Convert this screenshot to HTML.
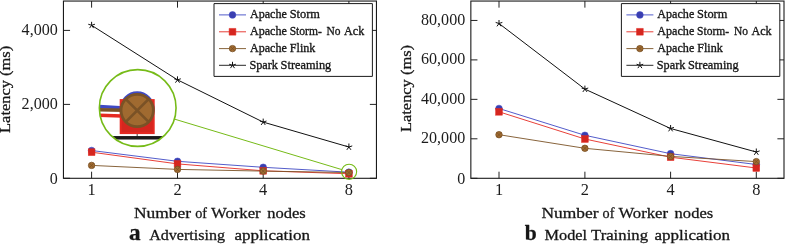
<!DOCTYPE html>
<html lang="en"><head><meta charset="utf-8"><title>Latency vs number of worker nodes</title>
<style>
html,body{margin:0;padding:0;background:#fff;}
body{width:785px;height:246px;overflow:hidden;}
svg{display:block;}
</style></head><body>
<svg width="785" height="246" viewBox="0 0 785 246" font-family='"Liberation Serif", serif' fill="#161616">
<rect width="785" height="246" fill="#fff"/>
<defs><clipPath id="spyclip"><circle cx="137.7" cy="108.0" r="38.35"/></clipPath></defs>
<g stroke="#161616" stroke-width="0.28" stroke-linejoin="round">
<g stroke-linejoin="miter">
<path d="M91.60 178.3v-6.6M91.60 1.05v6.6M177.50 178.3v-6.6M177.50 1.05v6.6M263.20 178.3v-6.6M263.20 1.05v6.6M348.90 178.3v-6.6M348.90 1.05v6.6M63.45 178.30h6.6M376.45 178.30h-6.6M63.45 104.40h6.6M376.45 104.40h-6.6M63.45 30.40h6.6M376.45 30.40h-6.6" stroke="#222" stroke-width="1.0" fill="none"/>
<rect x="63.45" y="1.05" width="313.00" height="177.25" fill="none" stroke="#1a1a1a" stroke-width="1.1"/>
<polyline points="91.60,150.50 177.50,161.30 263.20,167.30 348.90,172.20" fill="none" stroke="#3f49c4" stroke-width="0.9"/>
<circle cx="91.60" cy="150.50" r="3.37" fill="#3a3eb0" stroke="#3f49c4" stroke-width="0.5"/>
<circle cx="177.50" cy="161.30" r="3.37" fill="#3a3eb0" stroke="#3f49c4" stroke-width="0.5"/>
<circle cx="263.20" cy="167.30" r="3.37" fill="#3a3eb0" stroke="#3f49c4" stroke-width="0.5"/>
<circle cx="348.90" cy="172.20" r="3.37" fill="#3a3eb0" stroke="#3f49c4" stroke-width="0.5"/>
<polyline points="91.60,152.20 177.50,163.90 263.20,170.80 348.90,173.76" fill="none" stroke="#e52a22" stroke-width="0.9"/>
<rect x="88.23" y="148.83" width="6.74" height="6.74" fill="#d5261f" stroke="#e52a22" stroke-width="0.5"/>
<rect x="174.13" y="160.53" width="6.74" height="6.74" fill="#d5261f" stroke="#e52a22" stroke-width="0.5"/>
<rect x="259.83" y="167.43" width="6.74" height="6.74" fill="#d5261f" stroke="#e52a22" stroke-width="0.5"/>
<rect x="345.53" y="170.39" width="6.74" height="6.74" fill="#d5261f" stroke="#e52a22" stroke-width="0.5"/>
<polyline points="91.60,165.40 177.50,169.40 263.20,171.10 348.90,172.54" fill="none" stroke="#7a5226" stroke-width="0.9"/>
<circle cx="91.60" cy="165.40" r="3.22" fill="#a06a30" stroke="#7a5226" stroke-width="0.8"/><path d="M89.32 163.12L93.88 167.68M89.32 167.68L93.88 163.12" stroke="#7a5226" stroke-width="0.8" fill="none"/>
<circle cx="177.50" cy="169.40" r="3.22" fill="#a06a30" stroke="#7a5226" stroke-width="0.8"/><path d="M175.22 167.12L179.78 171.68M175.22 171.68L179.78 167.12" stroke="#7a5226" stroke-width="0.8" fill="none"/>
<circle cx="263.20" cy="171.10" r="3.22" fill="#a06a30" stroke="#7a5226" stroke-width="0.8"/><path d="M260.92 168.82L265.48 173.38M260.92 173.38L265.48 168.82" stroke="#7a5226" stroke-width="0.8" fill="none"/>
<circle cx="348.90" cy="172.54" r="3.22" fill="#a06a30" stroke="#7a5226" stroke-width="0.8"/><path d="M346.62 170.26L351.18 174.82M346.62 174.82L351.18 170.26" stroke="#7a5226" stroke-width="0.8" fill="none"/>
<polyline points="91.60,25.30 177.50,79.85 263.20,122.10 348.90,147.00" fill="none" stroke="#111" stroke-width="1.0"/>
<path d="M91.60 25.30L91.60 21.80M91.60 25.30L94.93 24.22M91.60 25.30L93.66 28.13M91.60 25.30L89.54 28.13M91.60 25.30L88.27 24.22" stroke="#111" stroke-width="1.0" fill="none"/>
<path d="M177.50 79.85L177.50 76.35M177.50 79.85L180.83 78.77M177.50 79.85L179.56 82.68M177.50 79.85L175.44 82.68M177.50 79.85L174.17 78.77" stroke="#111" stroke-width="1.0" fill="none"/>
<path d="M263.20 122.10L263.20 118.60M263.20 122.10L266.53 121.02M263.20 122.10L265.26 124.93M263.20 122.10L261.14 124.93M263.20 122.10L259.87 121.02" stroke="#111" stroke-width="1.0" fill="none"/>
<path d="M348.90 147.00L348.90 143.50M348.90 147.00L352.23 145.92M348.90 147.00L350.96 149.83M348.90 147.00L346.84 149.83M348.90 147.00L345.57 145.92" stroke="#111" stroke-width="1.0" fill="none"/>
<path d="M174.41 119.08L341.87 169.62" stroke="#76bb18" stroke-width="1"/>
<g clip-path="url(#spyclip)"><g transform="translate(137.7 108.0) scale(5) translate(-349.0 -172.34)">
<path d="M91.60 178.3v-6.6M91.60 1.05v6.6M177.50 178.3v-6.6M177.50 1.05v6.6M263.20 178.3v-6.6M263.20 1.05v6.6M348.90 178.3v-6.6M348.90 1.05v6.6M63.45 178.30h6.6M376.45 178.30h-6.6M63.45 104.40h6.6M376.45 104.40h-6.6M63.45 30.40h6.6M376.45 30.40h-6.6" stroke="#666" stroke-width="0.25" fill="none"/>
<rect x="63.45" y="1.05" width="313.00" height="177.25" fill="none" stroke="#1a1a1a" stroke-width="0.7"/>
<polyline points="91.60,150.50 177.50,161.30 263.20,167.30 348.90,172.50" fill="none" stroke="#3f49c4" stroke-width="0.7"/>
<circle cx="91.60" cy="150.50" r="3.30" fill="#3a3eb0" stroke="#3f49c4" stroke-width="0.4"/>
<circle cx="177.50" cy="161.30" r="3.30" fill="#3a3eb0" stroke="#3f49c4" stroke-width="0.4"/>
<circle cx="263.20" cy="167.30" r="3.30" fill="#3a3eb0" stroke="#3f49c4" stroke-width="0.4"/>
<circle cx="348.90" cy="172.50" r="3.30" fill="#3a3eb0" stroke="#3f49c4" stroke-width="0.4"/>
<polyline points="91.60,152.20 177.50,163.90 263.20,170.80 348.90,174.06" fill="none" stroke="#e52a22" stroke-width="0.7"/>
<rect x="88.30" y="148.90" width="6.60" height="6.60" fill="#d5261f" stroke="#e52a22" stroke-width="0.4"/>
<rect x="174.20" y="160.60" width="6.60" height="6.60" fill="#d5261f" stroke="#e52a22" stroke-width="0.4"/>
<rect x="259.90" y="167.50" width="6.60" height="6.60" fill="#d5261f" stroke="#e52a22" stroke-width="0.4"/>
<rect x="345.60" y="170.76" width="6.60" height="6.60" fill="#d5261f" stroke="#e52a22" stroke-width="0.4"/>
<polyline points="91.60,165.40 177.50,169.40 263.20,171.10 348.90,172.84" fill="none" stroke="#7a5226" stroke-width="0.7"/>
<circle cx="91.60" cy="165.40" r="3.23" fill="#a06a30" stroke="#7a5226" stroke-width="0.55"/><path d="M89.32 163.12L93.88 167.68M89.32 167.68L93.88 163.12" stroke="#7a5226" stroke-width="0.55" fill="none"/>
<circle cx="177.50" cy="169.40" r="3.23" fill="#a06a30" stroke="#7a5226" stroke-width="0.55"/><path d="M175.22 167.12L179.78 171.68M175.22 171.68L179.78 167.12" stroke="#7a5226" stroke-width="0.55" fill="none"/>
<circle cx="263.20" cy="171.10" r="3.23" fill="#a06a30" stroke="#7a5226" stroke-width="0.55"/><path d="M260.92 168.82L265.48 173.38M260.92 173.38L265.48 168.82" stroke="#7a5226" stroke-width="0.55" fill="none"/>
<circle cx="348.90" cy="172.84" r="3.23" fill="#a06a30" stroke="#7a5226" stroke-width="0.55"/><path d="M346.62 170.56L351.18 175.12M346.62 175.12L351.18 170.56" stroke="#7a5226" stroke-width="0.55" fill="none"/>
<polyline points="91.60,25.30 177.50,79.85 263.20,122.10 348.90,147.00" fill="none" stroke="#111" stroke-width="0.7"/>
<path d="M91.60 25.30L91.60 21.80M91.60 25.30L94.93 24.22M91.60 25.30L93.66 28.13M91.60 25.30L89.54 28.13M91.60 25.30L88.27 24.22" stroke="#111" stroke-width="0.5" fill="none"/>
<path d="M177.50 79.85L177.50 76.35M177.50 79.85L180.83 78.77M177.50 79.85L179.56 82.68M177.50 79.85L175.44 82.68M177.50 79.85L174.17 78.77" stroke="#111" stroke-width="0.5" fill="none"/>
<path d="M263.20 122.10L263.20 118.60M263.20 122.10L266.53 121.02M263.20 122.10L265.26 124.93M263.20 122.10L261.14 124.93M263.20 122.10L259.87 121.02" stroke="#111" stroke-width="0.5" fill="none"/>
<path d="M348.90 147.00L348.90 143.50M348.90 147.00L352.23 145.92M348.90 147.00L350.96 149.83M348.90 147.00L346.84 149.83M348.90 147.00L345.57 145.92" stroke="#111" stroke-width="0.5" fill="none"/>
</g></g>
<circle cx="137.7" cy="108.0" r="38.35" fill="none" stroke="#76bb18" stroke-width="1.6"/>
<circle cx="349.1" cy="171.8" r="7.55" fill="none" stroke="#76bb18" stroke-width="1.1"/>
</g>
<rect x="214.00" y="3.6" width="158.40" height="72.80000000000001" fill="#fff" stroke="#1a1a1a" stroke-width="1"/>
<path d="M219.00 14.9H246.00" stroke="#3f49c4" stroke-width="0.9"/>
<path d="M219.00 31.8H246.00" stroke="#e52a22" stroke-width="0.9"/>
<path d="M219.00 48.6H246.00" stroke="#7a5226" stroke-width="0.9"/>
<path d="M219.00 65.3H246.00" stroke="#111" stroke-width="0.9"/>
<circle cx="232.50" cy="14.90" r="3.37" fill="#3a3eb0" stroke="#3f49c4" stroke-width="0.5"/>
<rect x="229.13" y="28.43" width="6.74" height="6.74" fill="#d5261f" stroke="#e52a22" stroke-width="0.5"/>
<circle cx="232.50" cy="48.60" r="3.22" fill="#a06a30" stroke="#7a5226" stroke-width="0.8"/><path d="M230.22 46.32L234.78 50.88M230.22 50.88L234.78 46.32" stroke="#7a5226" stroke-width="0.8" fill="none"/>
<path d="M232.50 65.30L232.50 61.80M232.50 65.30L235.83 64.22M232.50 65.30L234.56 68.13M232.50 65.30L230.44 68.13M232.50 65.30L229.17 64.22" stroke="#111" stroke-width="1.0" fill="none"/>
<text x="249.9" y="18.1" font-size="11.8" text-anchor="start" textLength="37.0" lengthAdjust="spacingAndGlyphs" stroke-width="0.32">Apache</text>
<text x="289.7" y="18.1" font-size="11.8" text-anchor="start" textLength="30.2" lengthAdjust="spacingAndGlyphs" stroke-width="0.32">Storm</text>
<text x="249.9" y="34.9" font-size="11.8" text-anchor="start" textLength="37.0" lengthAdjust="spacingAndGlyphs" stroke-width="0.32">Apache</text>
<text x="289.7" y="34.9" font-size="11.8" text-anchor="start" textLength="32.1" lengthAdjust="spacingAndGlyphs" stroke-width="0.32">Storm-</text>
<text x="326.5" y="34.9" font-size="11.8" text-anchor="start" textLength="14.0" lengthAdjust="spacingAndGlyphs" stroke-width="0.32">No</text>
<text x="344.0" y="34.9" font-size="11.8" text-anchor="start" textLength="20.2" lengthAdjust="spacingAndGlyphs" stroke-width="0.32">Ack</text>
<text x="249.9" y="51.7" font-size="11.8" text-anchor="start" textLength="37.0" lengthAdjust="spacingAndGlyphs" stroke-width="0.32">Apache</text>
<text x="289.8" y="51.7" font-size="11.8" text-anchor="start" textLength="25.6" lengthAdjust="spacingAndGlyphs" stroke-width="0.32">Flink</text>
<text x="249.4" y="68.5" font-size="11.8" text-anchor="start" textLength="28.6" lengthAdjust="spacingAndGlyphs" stroke-width="0.32">Spark</text>
<text x="280.6" y="68.5" font-size="11.8" text-anchor="start" textLength="50.7" lengthAdjust="spacingAndGlyphs" stroke-width="0.32">Streaming</text>
<text x="57.8" y="183.6" font-size="17.0" text-anchor="end" textLength="8.0" lengthAdjust="spacingAndGlyphs" stroke="none" fill="#1c1c1c">0</text>
<text x="57.8" y="108.7" font-size="17.0" text-anchor="end" textLength="36.2" lengthAdjust="spacingAndGlyphs" stroke="none" fill="#1c1c1c">2,000</text>
<text x="57.8" y="34.7" font-size="17.0" text-anchor="end" textLength="36.2" lengthAdjust="spacingAndGlyphs" stroke="none" fill="#1c1c1c">4,000</text>
<text x="91.6" y="194.8" font-size="17.4" text-anchor="middle" textLength="8.2" lengthAdjust="spacingAndGlyphs" stroke="none" fill="#1c1c1c">1</text>
<text x="177.5" y="194.8" font-size="17.4" text-anchor="middle" textLength="8.2" lengthAdjust="spacingAndGlyphs" stroke="none" fill="#1c1c1c">2</text>
<text x="263.2" y="194.8" font-size="17.4" text-anchor="middle" textLength="8.2" lengthAdjust="spacingAndGlyphs" stroke="none" fill="#1c1c1c">4</text>
<text x="348.9" y="194.8" font-size="17.4" text-anchor="middle" textLength="8.2" lengthAdjust="spacingAndGlyphs" stroke="none" fill="#1c1c1c">8</text>
<text transform="translate(9.8 132.9) rotate(-90)" font-size="15.6" textLength="87.0" lengthAdjust="spacingAndGlyphs">Latency (ms)</text>
<text x="134.0" y="218.2" font-size="15.3" text-anchor="start" textLength="57.1" lengthAdjust="spacingAndGlyphs">Number</text>
<text x="195.2" y="218.2" font-size="15.3" text-anchor="start" textLength="11.8" lengthAdjust="spacingAndGlyphs">of</text>
<text x="211.0" y="218.2" font-size="15.3" text-anchor="start" textLength="49.7" lengthAdjust="spacingAndGlyphs">Worker</text>
<text x="267.2" y="218.2" font-size="15.3" text-anchor="start" textLength="38.6" lengthAdjust="spacingAndGlyphs">nodes</text>
<text x="128.9" y="240.3" font-size="22.5" text-anchor="start" textLength="11.6" lengthAdjust="spacingAndGlyphs" font-weight="bold">a</text>
<text x="149.2" y="240.2" font-size="14.4" text-anchor="start" textLength="75.9" lengthAdjust="spacingAndGlyphs">Advertising</text>
<text x="234.4" y="240.2" font-size="14.4" text-anchor="start" textLength="75.6" lengthAdjust="spacingAndGlyphs">application</text>
<g stroke-linejoin="miter">
<path d="M499.00 178.3v-6.6M499.00 1.05v6.6M584.90 178.3v-6.6M584.90 1.05v6.6M670.60 178.3v-6.6M670.60 1.05v6.6M756.30 178.3v-6.6M756.30 1.05v6.6M470.85 178.30h6.6M784.00 178.30h-6.6M470.85 138.80h6.6M784.00 138.80h-6.6M470.85 99.35h6.6M784.00 99.35h-6.6M470.85 59.90h6.6M784.00 59.90h-6.6M470.85 20.45h6.6M784.00 20.45h-6.6" stroke="#222" stroke-width="1.0" fill="none"/>
<rect x="470.85" y="1.05" width="313.15" height="177.25" fill="none" stroke="#1a1a1a" stroke-width="1.1"/>
<polyline points="499.00,108.50 584.90,135.30 670.60,153.70 756.30,164.50" fill="none" stroke="#3f49c4" stroke-width="0.9"/>
<circle cx="499.00" cy="108.50" r="3.37" fill="#3a3eb0" stroke="#3f49c4" stroke-width="0.5"/>
<circle cx="584.90" cy="135.30" r="3.37" fill="#3a3eb0" stroke="#3f49c4" stroke-width="0.5"/>
<circle cx="670.60" cy="153.70" r="3.37" fill="#3a3eb0" stroke="#3f49c4" stroke-width="0.5"/>
<circle cx="756.30" cy="164.50" r="3.37" fill="#3a3eb0" stroke="#3f49c4" stroke-width="0.5"/>
<polyline points="499.00,111.80 584.90,139.00 670.60,157.20 756.30,168.00" fill="none" stroke="#e52a22" stroke-width="0.9"/>
<rect x="495.63" y="108.43" width="6.74" height="6.74" fill="#d5261f" stroke="#e52a22" stroke-width="0.5"/>
<rect x="581.53" y="135.63" width="6.74" height="6.74" fill="#d5261f" stroke="#e52a22" stroke-width="0.5"/>
<rect x="667.23" y="153.83" width="6.74" height="6.74" fill="#d5261f" stroke="#e52a22" stroke-width="0.5"/>
<rect x="752.93" y="164.63" width="6.74" height="6.74" fill="#d5261f" stroke="#e52a22" stroke-width="0.5"/>
<polyline points="499.00,134.70 584.90,148.30 670.60,156.40 756.30,161.60" fill="none" stroke="#7a5226" stroke-width="0.9"/>
<circle cx="499.00" cy="134.70" r="3.22" fill="#a06a30" stroke="#7a5226" stroke-width="0.8"/><path d="M496.72 132.42L501.28 136.98M496.72 136.98L501.28 132.42" stroke="#7a5226" stroke-width="0.8" fill="none"/>
<circle cx="584.90" cy="148.30" r="3.22" fill="#a06a30" stroke="#7a5226" stroke-width="0.8"/><path d="M582.62 146.02L587.18 150.58M582.62 150.58L587.18 146.02" stroke="#7a5226" stroke-width="0.8" fill="none"/>
<circle cx="670.60" cy="156.40" r="3.22" fill="#a06a30" stroke="#7a5226" stroke-width="0.8"/><path d="M668.32 154.12L672.88 158.68M668.32 158.68L672.88 154.12" stroke="#7a5226" stroke-width="0.8" fill="none"/>
<circle cx="756.30" cy="161.60" r="3.22" fill="#a06a30" stroke="#7a5226" stroke-width="0.8"/><path d="M754.02 159.32L758.58 163.88M754.02 163.88L758.58 159.32" stroke="#7a5226" stroke-width="0.8" fill="none"/>
<polyline points="499.00,23.50 584.90,89.10 670.60,128.50 756.30,152.00" fill="none" stroke="#111" stroke-width="1.0"/>
<path d="M499.00 23.50L499.00 20.00M499.00 23.50L502.33 22.42M499.00 23.50L501.06 26.33M499.00 23.50L496.94 26.33M499.00 23.50L495.67 22.42" stroke="#111" stroke-width="1.0" fill="none"/>
<path d="M584.90 89.10L584.90 85.60M584.90 89.10L588.23 88.02M584.90 89.10L586.96 91.93M584.90 89.10L582.84 91.93M584.90 89.10L581.57 88.02" stroke="#111" stroke-width="1.0" fill="none"/>
<path d="M670.60 128.50L670.60 125.00M670.60 128.50L673.93 127.42M670.60 128.50L672.66 131.33M670.60 128.50L668.54 131.33M670.60 128.50L667.27 127.42" stroke="#111" stroke-width="1.0" fill="none"/>
<path d="M756.30 152.00L756.30 148.50M756.30 152.00L759.63 150.92M756.30 152.00L758.36 154.83M756.30 152.00L754.24 154.83M756.30 152.00L752.97 150.92" stroke="#111" stroke-width="1.0" fill="none"/>
</g>
<rect x="621.40" y="3.6" width="158.40" height="72.80000000000001" fill="#fff" stroke="#1a1a1a" stroke-width="1"/>
<path d="M626.40 14.9H653.40" stroke="#3f49c4" stroke-width="0.9"/>
<path d="M626.40 31.8H653.40" stroke="#e52a22" stroke-width="0.9"/>
<path d="M626.40 48.6H653.40" stroke="#7a5226" stroke-width="0.9"/>
<path d="M626.40 65.3H653.40" stroke="#111" stroke-width="0.9"/>
<circle cx="639.90" cy="14.90" r="3.37" fill="#3a3eb0" stroke="#3f49c4" stroke-width="0.5"/>
<rect x="636.53" y="28.43" width="6.74" height="6.74" fill="#d5261f" stroke="#e52a22" stroke-width="0.5"/>
<circle cx="639.90" cy="48.60" r="3.22" fill="#a06a30" stroke="#7a5226" stroke-width="0.8"/><path d="M637.62 46.32L642.18 50.88M637.62 50.88L642.18 46.32" stroke="#7a5226" stroke-width="0.8" fill="none"/>
<path d="M639.90 65.30L639.90 61.80M639.90 65.30L643.23 64.22M639.90 65.30L641.96 68.13M639.90 65.30L637.84 68.13M639.90 65.30L636.57 64.22" stroke="#111" stroke-width="1.0" fill="none"/>
<text x="657.3" y="18.1" font-size="11.8" text-anchor="start" textLength="37.0" lengthAdjust="spacingAndGlyphs" stroke-width="0.32">Apache</text>
<text x="697.1" y="18.1" font-size="11.8" text-anchor="start" textLength="30.2" lengthAdjust="spacingAndGlyphs" stroke-width="0.32">Storm</text>
<text x="657.3" y="34.9" font-size="11.8" text-anchor="start" textLength="37.0" lengthAdjust="spacingAndGlyphs" stroke-width="0.32">Apache</text>
<text x="697.1" y="34.9" font-size="11.8" text-anchor="start" textLength="32.1" lengthAdjust="spacingAndGlyphs" stroke-width="0.32">Storm-</text>
<text x="733.9" y="34.9" font-size="11.8" text-anchor="start" textLength="14.0" lengthAdjust="spacingAndGlyphs" stroke-width="0.32">No</text>
<text x="751.4" y="34.9" font-size="11.8" text-anchor="start" textLength="20.2" lengthAdjust="spacingAndGlyphs" stroke-width="0.32">Ack</text>
<text x="657.3" y="51.7" font-size="11.8" text-anchor="start" textLength="37.0" lengthAdjust="spacingAndGlyphs" stroke-width="0.32">Apache</text>
<text x="697.2" y="51.7" font-size="11.8" text-anchor="start" textLength="25.6" lengthAdjust="spacingAndGlyphs" stroke-width="0.32">Flink</text>
<text x="656.8" y="68.5" font-size="11.8" text-anchor="start" textLength="28.6" lengthAdjust="spacingAndGlyphs" stroke-width="0.32">Spark</text>
<text x="688.0" y="68.5" font-size="11.8" text-anchor="start" textLength="50.7" lengthAdjust="spacingAndGlyphs" stroke-width="0.32">Streaming</text>
<text x="465.2" y="183.6" font-size="17.0" text-anchor="end" textLength="8.0" lengthAdjust="spacingAndGlyphs" stroke="none" fill="#1c1c1c">0</text>
<text x="465.2" y="143.1" font-size="17.0" text-anchor="end" textLength="44.2" lengthAdjust="spacingAndGlyphs" stroke="none" fill="#1c1c1c">20,000</text>
<text x="465.2" y="103.6" font-size="17.0" text-anchor="end" textLength="44.2" lengthAdjust="spacingAndGlyphs" stroke="none" fill="#1c1c1c">40,000</text>
<text x="465.2" y="64.2" font-size="17.0" text-anchor="end" textLength="44.2" lengthAdjust="spacingAndGlyphs" stroke="none" fill="#1c1c1c">60,000</text>
<text x="465.2" y="24.7" font-size="17.0" text-anchor="end" textLength="44.2" lengthAdjust="spacingAndGlyphs" stroke="none" fill="#1c1c1c">80,000</text>
<text x="499.0" y="194.8" font-size="17.4" text-anchor="middle" textLength="8.2" lengthAdjust="spacingAndGlyphs" stroke="none" fill="#1c1c1c">1</text>
<text x="584.9" y="194.8" font-size="17.4" text-anchor="middle" textLength="8.2" lengthAdjust="spacingAndGlyphs" stroke="none" fill="#1c1c1c">2</text>
<text x="670.6" y="194.8" font-size="17.4" text-anchor="middle" textLength="8.2" lengthAdjust="spacingAndGlyphs" stroke="none" fill="#1c1c1c">4</text>
<text x="756.3" y="194.8" font-size="17.4" text-anchor="middle" textLength="8.2" lengthAdjust="spacingAndGlyphs" stroke="none" fill="#1c1c1c">8</text>
<text transform="translate(410.9 132.0) rotate(-90)" font-size="15.6" textLength="87.0" lengthAdjust="spacingAndGlyphs">Latency (ms)</text>
<text x="541.4" y="218.2" font-size="15.3" text-anchor="start" textLength="57.1" lengthAdjust="spacingAndGlyphs">Number</text>
<text x="602.6" y="218.2" font-size="15.3" text-anchor="start" textLength="11.8" lengthAdjust="spacingAndGlyphs">of</text>
<text x="618.4" y="218.2" font-size="15.3" text-anchor="start" textLength="49.7" lengthAdjust="spacingAndGlyphs">Worker</text>
<text x="674.6" y="218.2" font-size="15.3" text-anchor="start" textLength="38.6" lengthAdjust="spacingAndGlyphs">nodes</text>
<text x="524.8" y="240.3" font-size="21.0" text-anchor="start" textLength="12.0" lengthAdjust="spacingAndGlyphs" font-weight="bold">b</text>
<text x="544.6" y="240.2" font-size="14.4" text-anchor="start" textLength="42.5" lengthAdjust="spacingAndGlyphs">Model</text>
<text x="591.0" y="240.2" font-size="14.4" text-anchor="start" textLength="57.0" lengthAdjust="spacingAndGlyphs">Training</text>
<text x="654.4" y="240.2" font-size="14.4" text-anchor="start" textLength="75.6" lengthAdjust="spacingAndGlyphs">application</text>
</g>
</svg>
</body></html>
